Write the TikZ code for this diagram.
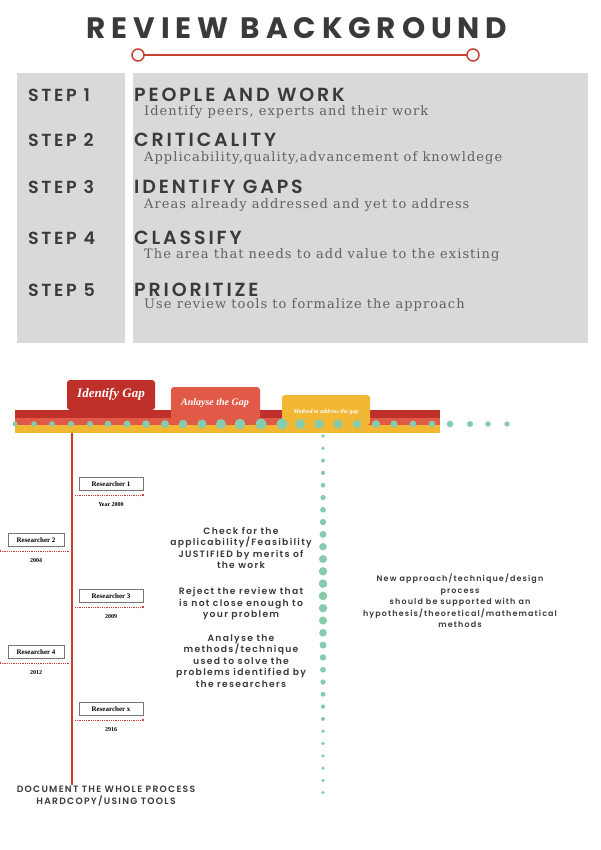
\documentclass[tikz,border=0pt]{standalone}
\usepackage{fontspec}
\setmainfont{Liberation Serif}
\newfontfamily\popb[LetterSpace=20]{Poppins Bold}
\newfontfamily\pops[LetterSpace=15]{Poppins SemiBold}
\newfontfamily\serf[LetterSpace=8]{DejaVu Serif}
\newfontfamily\bodyf[LetterSpace=14]{Poppins SemiBold}
\definecolor{dk}{HTML}{3A3A3A}
\definecolor{rd}{HTML}{C8402F}
\definecolor{rd1}{HTML}{C0302B}
\definecolor{rd2}{HTML}{E05A47}
\definecolor{yl}{HTML}{F2B733}
\definecolor{gr}{HTML}{D9D9D9}
\definecolor{mint}{HTML}{86CBAE}
\begin{document}
\begin{tikzpicture}[x=1pt,y=-1pt,
  stp/.style={font=\pops\fontsize{17.5}{17.5}\selectfont,text=dk,anchor=west,inner sep=0},
  hd/.style={font=\pops\fontsize{19}{19}\selectfont,text=dk,anchor=west,inner sep=0},
  sub/.style={font=\serf\fontsize{13}{13}\selectfont,text=dk!80,anchor=west,inner sep=0},
  res/.style={draw=dk!70,font=\bfseries\fontsize{7}{8}\selectfont,minimum height=13,inner sep=1},
  yr/.style={font=\bfseries\fontsize{6}{7}\selectfont,inner sep=0},
  dline/.style={rd,densely dotted,line width=0.8},
  ctext/.style={font=\bodyf\fontsize{9.2}{11.5}\selectfont,align=center,text=dk,inner sep=0},
  tab/.style={rounded corners=3,inner sep=0}]
\useasboundingbox[fill=white] (0,0) rectangle (600,850);
\node[font=\popb\fontsize{29.5}{30}\selectfont,text=dk] (title) at (297,28) {REVIEW BACKGROUND};
\draw[rd,line width=1.5] (144,55) -- (467,55);
\draw[rd,line width=1.5,fill=white] (138,55) circle (6) (473,55) circle (6);
\fill[gr] (17,73) rectangle (125,343);
\fill[gr] (133,73) rectangle (588,343);
\foreach \n/\h/\s/\y/\ys in {1/PEOPLE AND WORK/{Identify peers, experts and their work}/95/112,
  2/CRITICALITY/{Applicability,quality,advancement of knowldege}/140/158,
  3/IDENTIFY GAPS/{Areas already addressed and yet to address}/187/205,
  4/CLASSIFY/{The area that needs to add value to the existing}/238/255,
  5/PRIORITIZE/{Use review tools to formalize the approach}/290/305}{
  \node[stp] (s\n) at (28,\y) {STEP \n};
  \node[hd] (h\n) at (134,\y) {\h};
  \node[sub] (t\n) at (144,\ys) {\s};
}
% timeline bands
\fill[rd1] (15,410) rectangle (440,418);
\fill[rd2] (15,418) rectangle (440,425);
\fill[yl] (15,425) rectangle (440,433);
\fill[rd1,tab] (67,410) -- (67,380) -- (155,380) -- (155,410) -- cycle;
\fill[rd2,tab] (171,420) -- (171,387) -- (260,387) -- (260,420) -- cycle;
\fill[yl,tab] (282,425) -- (282,395) -- (370,395) -- (370,425) -- cycle;
\node[font=\bfseries\itshape\fontsize{13}{13}\selectfont,text=white] (ta) at (111,394) {Identify Gap};
\node[font=\bfseries\itshape\fontsize{10}{10}\selectfont,text=white] (tb) at (215,403) {Anlayse the Gap};
\node[font=\bfseries\itshape\fontsize{6}{6}\selectfont,text=white] (tc) at (326,412) {Method to address the gap};
% horizontal dots
\foreach \x/\r in {15/2.5,34/2.8,52/2.8,71/3,90/3,108/3.3,127/3.5,146/3.8,165/4,183/4.3,202/4.6,221/5,240/5.3,261/5.6,282/5.6,300/5,319/4.7,338/4.4,357/4.2,376/4,394/3.6,413/3.4,432/3.3,450/3.3,470/3,488/2.8,507/2.6}
  \fill[mint] (\x,424) circle (\r);
% vertical red line
\draw[rd,line width=1.2] (72,433) -- (72,785);
\fill[rd] (72,435) circle (1.5);
% vertical dots
\foreach \i in {0,...,29}{
  \pgfmathsetmacro{\yy}{436+\i*12.3}
  \pgfmathsetmacro{\rr}{1.7+2.6*exp(-((\yy-590)/90)^2)}
  \fill[mint] (323,\yy) circle (\rr);
}
% researchers
\foreach \n/\lab/\yr/\x/\y/\xa/\xb/\w in {1/Researcher 1/Year 2000/111/484/75/143/64,
  2/Researcher 2/2004/36/540/0/70/56,3/Researcher 3/2009/111/596/75/143/64,
  4/Researcher 4/2012/36/652/0/70/56,5/Researcher x/2916/111/709/75/143/64}{
  \node[res,minimum width=\w] (r\n) at (\x,\y) {\lab};
  \coordinate (a\n) at (\xa,\y+11);
  \coordinate (b\n) at (\xb,\y+11);
  \draw[dline] (a\n) -- (b\n);
  \node[yr] (y\n) at (\x,\y+21) {\yr};
}
\fill[rd] (b1) circle (1.3) (b3) circle (1.3) (b5) circle (1.3) (a2) circle (1.3) (a4) circle (1.3);
\node[ctext] (c1) at (241,548) {Check for the\\applicability/Feasibility\\JUSTIFIED by merits of\\the work};
\node[ctext] (c2) at (241,604) {Reject the review that\\is not close enough to\\your problem};
\node[ctext] (c3) at (241,661) {Analyse the\\methods/technique\\used to solve the\\problems identified by\\the researchers};
\node[ctext,font=\bodyf\fontsize{8}{11.5}\selectfont] (c4) at (460,601) {New approach/technique/design\\process\\should be supported with an\\hypothesis/theoretical/mathematical\\methods};
\node[ctext,font=\bodyf\fontsize{9.2}{12}\selectfont] (c5) at (106,796) {DOCUMENT THE WHOLE PROCESS\\HARDCOPY/USING TOOLS};
\end{tikzpicture}
\end{document}
